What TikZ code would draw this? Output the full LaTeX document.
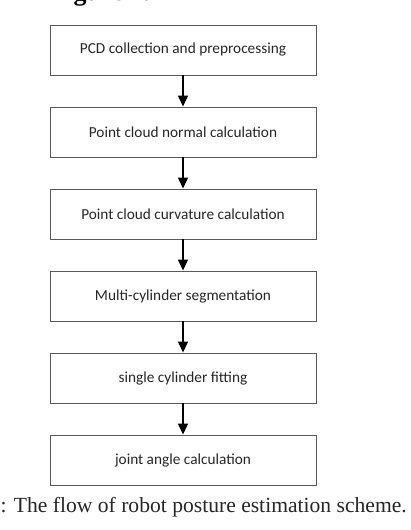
\documentclass[tikz,border=0pt]{standalone}
\usepackage{fontspec}
\setmainfont{Liberation Serif}
\newfontfamily\boxfont{Carlito}
\usetikzlibrary{arrows.meta}
\begin{document}
\begin{tikzpicture}[x=1pt,y=-1pt,
  stepbox/.style={draw=black!65,line width=0.9pt,minimum width=266pt,minimum height=50pt,
    inner sep=0pt,font=\boxfont\fontsize{15.3}{18}\selectfont,text=black!85},
  flowarrow/.style={draw=black,line width=1.3pt,-{Triangle[width=10pt,length=11pt]}}]
\useasboundingbox (0,0) rectangle (410,530);
\clip (0,0) rectangle (410,530);
\node[anchor=base east,inner sep=0pt,font=\fontsize{26}{30}\selectfont\bfseries] (top) at (150,1) {in Figure 2.};
\node[stepbox] (b1) at (183,50) {PCD collection and preprocessing};
\node[stepbox] (b2) at (183,132) {Point cloud normal calculation};
\node[stepbox] (b3) at (183,214) {Point cloud curvature calculation};
\node[stepbox] (b4) at (183,296) {Multi-cylinder segmentation};
\node[stepbox] (b5) at (183,378) {single cylinder fitting};
\node[stepbox] (b6) at (183,460) {joint angle calculation};
\draw[flowarrow] (b1) -- (b2);
\draw[flowarrow] (b2) -- (b3);
\draw[flowarrow] (b3) -- (b4);
\draw[flowarrow] (b4) -- (b5);
\draw[flowarrow] (b5) -- (b6);
\node[anchor=base east,font=\fontsize{21.6}{24}\selectfont,text=black!85,inner sep=0pt] (cap) at (407,512) {: The flow of robot posture estimation scheme.};
\end{tikzpicture}
\end{document}
